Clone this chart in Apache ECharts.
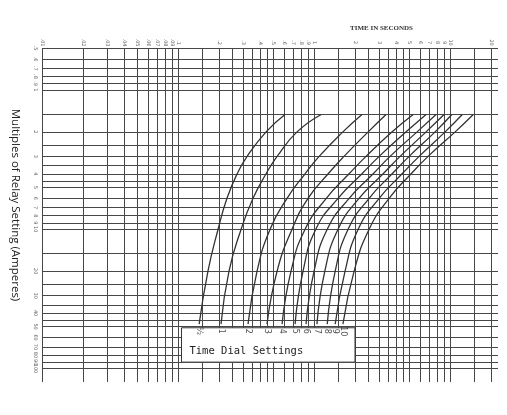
<!DOCTYPE html>
<html><head><meta charset="utf-8">
<script src="https://cdn.jsdelivr.net/npm/echarts@6/dist/echarts.min.js"></script>
<style>html,body{margin:0;padding:0;background:#fff}#c{width:507px;height:415px}</style>
</head><body><div id="c"></div>
<script>
// Multiples of relay setting at which each curve was read
const multiples = [1.5, 2, 3, 4, 6, 10, 20, 48];
// Operating time (s) per time dial setting, at the multiples above
const dialNames = ['½','1','2','3','4','5','6','7','8','9','10'];
const tdHalf = [0.612, 0.444, 0.322, 0.272, 0.229, 0.197, 0.166, 0.143];
const td1  = [1.13, 0.75, 0.535, 0.444, 0.356, 0.291, 0.237, 0.207];
const td2  = [2.25, 1.63, 1.09, 0.859, 0.633, 0.475, 0.381, 0.327];
const td3  = [3.38, 2.50, 1.66, 1.27, 0.903, 0.689, 0.535, 0.451];
const td4  = [5.35, 3.75, 2.41, 1.81, 1.23, 0.859, 0.677, 0.582];
const td5  = [6.66, 4.75, 3.01, 2.25, 1.50, 1.03, 0.830, 0.725];
const td6  = [7.89, 5.72, 3.62, 2.72, 1.81, 1.25, 1.00, 0.873];
const td7  = [9.03, 6.66, 4.29, 3.22, 2.14, 1.50, 1.20, 1.05];
const td8  = [10.3, 7.76, 5.00, 3.75, 2.54, 1.78, 1.43, 1.25];
const td9  = [12.3, 9.19, 5.92, 4.44, 3.01, 2.11, 1.69, 1.43];
const td10 = [14.8, 10.9, 6.89, 5.17, 3.56, 2.54, 1.97, 1.63];
const dialCurves = [tdHalf, td1, td2, td3, td4, td5, td6, td7, td8, td9, td10];

// Tick labels
const timeTicks = [0.01,0.02,0.03,0.04,0.05,0.06,0.07,0.08,0.09,
                   0.1,0.2,0.3,0.4,0.5,0.6,0.7,0.8,0.9,
                   1,2,3,4,5,6,7,8,9,10,20];
const multipleTicks = [0.5,0.6,0.7,0.8,0.9,1,2,3,4,5,6,7,8,9,
                       10,20,30,40,50,60,70,80,90,100];
// Grid line pattern per decade
const gridSteps = [1,1.5,2,2.5,3,3.5,4,4.5,5,6,7,8,9];
const timeDecades = [0.01, 0.1, 1, 10];
const multipleDecades = [0.1, 1, 10, 100];
// Legend box (time range, multiple range)
const boxTimes = [0.106, 2.0];
const boxMultiples = [51, 90];
const labelMultiple = 54;

const timeGrid = [];
timeDecades.forEach(d => gridSteps.forEach(s => { const v = +(d*s).toPrecision(6); if (v >= 0.01 && v <= 20) timeGrid.push(v); }));
const multGrid = [];
multipleDecades.forEach(d => gridSteps.forEach(s => { const v = +(d*s).toPrecision(6); if (v >= 0.5 && v <= 100) multGrid.push(v); }));

const fmt = v => v < 1 ? String(v).replace(/^0/, '') : String(v);
const gridColor = '#474747';
const hiddenAxis = {axisLine:{show:false}, axisTick:{show:false}, axisLabel:{show:false}, splitLine:{show:false}, minorSplitLine:{show:false}};

const chart = echarts.init(document.getElementById('c'), null, {renderer:'canvas'});
const series = [];
series.push({
  type:'line', data:[], silent:true, z:1,
  markLine:{silent:true, z:1, symbol:['none','none'], animation:false, label:{show:false},
    lineStyle:{color:gridColor, width:1, type:'solid'},
    emphasis:{disabled:true},
    data:[...timeGrid.map(v=>({xAxis:v})), ...multGrid.map(v=>({yAxis:v}))]}
});
dialCurves.forEach((arr, i) => {
  series.push({
    type:'line', name:dialNames[i], z:3, silent:true, smooth:true, symbol:'none', showSymbol:false,
    lineStyle:{color:'#333', width:1.3},
    data: multiples.map((m, j) => [arr[j], m])
  });
});
series.push({
  type:'custom', z:8, silent:true, clip:false,
  data:[[boxTimes[0], boxMultiples[0], boxTimes[1], boxMultiples[1]]],
  renderItem:(params, api) => {
    const p1 = api.coord([api.value(0), api.value(1)]);
    const p2 = api.coord([api.value(2), api.value(3)]);
    return {type:'group', children:[
      {type:'rect', shape:{x:p1[0], y:p1[1], width:p2[0]-p1[0], height:p2[1]-p1[1]},
       style:{fill:'#fff', stroke:'#333', lineWidth:1}},
      {type:'text', x:p1[0]+8, y:(p1[1]+p2[1])/2+6,
       style:{text:'Time Dial Settings', font:'10.5px "DejaVu Sans Mono"', fill:'#222', align:'left', verticalAlign:'middle'}}
    ]};
  }
});
const labelSeries = (data, fn, size, color, z) => ({
  type:'scatter', data, symbol:'circle', symbolSize:1, clip:false, silent:true, z,
  itemStyle:{color:'rgba(0,0,0,0)'},
  label:{show:true, position:'inside', rotate:-90, formatter:fn, fontSize:size, color,
    fontFamily:'DejaVu Sans', align:'center', verticalAlign:'middle'}
});
series.push(labelSeries(timeTicks.map(v => [v, 0.457]), p => fmt(p.value[0]), 5, '#333', 10));
series.push(labelSeries(multipleTicks.map(v => [0.009, v]), p => fmt(p.value[1]), 5, '#333', 10));
series.push(labelSeries(dialCurves.map((c, i) => [c[c.length-1], labelMultiple, dialNames[i]]), p => p.value[2], 8, '#222', 11));

chart.setOption({
  animation:false,
  backgroundColor:'#fff',
  title:{text:'TIME IN SECONDS', left:350, top:25, padding:0,
    textStyle:{fontFamily:'Liberation Serif', fontWeight:'bold', fontSize:7, color:'#333'}},
  grid:{left:42, right:9, top:48, bottom:33},
  xAxis:Object.assign({type:'log', logBase:10, min:0.01, max:22.5, position:'top'}, hiddenAxis),
  yAxis:Object.assign({type:'log', logBase:10, min:0.5, max:125, inverse:true}, hiddenAxis),
  graphic:[{type:'text', x:15, y:205, rotation:-Math.PI/2, silent:true,
    style:{text:'Multiples of Relay Setting (Amperes)', font:'11.5px "Open Sans"', fill:'#222', align:'center', verticalAlign:'middle'}}],
  series
});
</script></body></html>
